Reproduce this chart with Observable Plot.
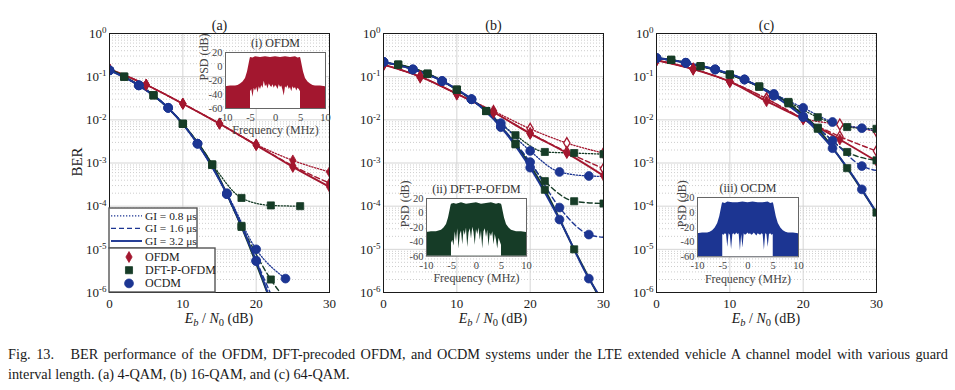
<!DOCTYPE html>
<html><head><meta charset="utf-8">
<script src="https://cdn.jsdelivr.net/npm/d3@7"></script>
<script src="https://cdn.jsdelivr.net/npm/@observablehq/plot@0.6"></script>
<style>
body{margin:0;background:#fff;}
#fig{position:relative;width:955px;height:390px;overflow:hidden;font-family:"Liberation Serif","Times New Roman",serif;color:#1a1a1a;}
#fig svg, #fig svg text{font-family:"Liberation Serif","Times New Roman",serif !important;}
.cap{position:absolute;left:8px;width:940px;font-size:14.3px;line-height:19px;color:#1a1a1a;white-space:nowrap;}
</style></head><body>
<div id="fig"></div>
<script>
// ---------- categories / labels ----------
const panelTitles = ["(a)", "(b)", "(c)"];
const schemes = ["OFDM", "DFT-P-OFDM", "OCDM"];
const guardIntervals = ["0.8", "1.6", "3.2"];
const xTicks = [0, 10, 20, 30];
const yTickExps = [0, -1, -2, -3, -4, -5, -6];

// ---------- Eb/N0 sample points ----------
const snrOFDM = [0, 5, 10, 15, 20, 25, 30];
const snrDFT  = [0, 2, 6, 10, 14, 18, 22, 26, 30];
const snrOCDM = [0, 4, 8, 12, 16, 20, 24, 28, 30];

// ---------- (a) 4-QAM ----------
const a_OFDM_GI08 = [0.15, 0.065, 0.0236, 0.0083, 0.0027, 0.00115, 0.00062];
const a_OFDM_GI16 = [0.15, 0.065, 0.0236, 0.0081, 0.0026, 0.00086, 0.00034];
const a_OFDM_GI32 = [0.15, 0.065, 0.0236, 0.0081, 0.0026, 0.00081, 0.00028];
const a_DFT_GI08  = [0.15, 0.10, 0.037, 0.0081, 0.00093, 1.55e-4, 1.04e-4, 1.0e-4, null];
const a_DFT_GI16  = [0.15, 0.10, 0.037, 0.0081, 0.00091, 3.5e-5, 2.0e-6, 3e-7, null];
const a_DFT_GI32  = [0.15, 0.10, 0.037, 0.0081, 0.00091, 3.3e-5, 6e-7, null, null];
const a_OCDM_GI08 = [0.14, 0.063, 0.019, 0.0028, 2.0e-4, 1.0e-5, 2.1e-6, null, null];
const a_OCDM_GI16 = [0.14, 0.063, 0.019, 0.0028, 1.9e-4, 5.5e-6, 1.5e-7, null, null];
const a_OCDM_GI32 = [0.14, 0.063, 0.019, 0.0028, 1.9e-4, 5.3e-6, 6e-8, null, null];

// ---------- (b) 16-QAM ----------
const b_OFDM_GI08 = [0.19, 0.10, 0.040, 0.016, 0.0062, 0.0029, 0.0017];
const b_OFDM_GI16 = [0.19, 0.10, 0.040, 0.015, 0.0049, 0.0018, 0.00074];
const b_OFDM_GI32 = [0.19, 0.10, 0.040, 0.015, 0.0048, 0.0017, 0.00051];
const b_DFT_GI08  = [0.21, 0.19, 0.117, 0.050, 0.016, 0.0044, 0.0018, 0.0017, 0.0016];
const b_DFT_GI16  = [0.21, 0.19, 0.117, 0.050, 0.016, 0.0028, 3.8e-4, 1.3e-4, 1.15e-4];
const b_DFT_GI32  = [0.21, 0.19, 0.117, 0.050, 0.016, 0.0027, 2.4e-4, 1.0e-5, 5e-7];
const b_OCDM_GI08 = [0.22, 0.147, 0.079, 0.030, 0.0084, 0.0019, 6.2e-4, 5.0e-4, 4.9e-4];
const b_OCDM_GI16 = [0.22, 0.147, 0.079, 0.030, 0.0070, 1.05e-3, 9.3e-5, 2.2e-5, 1.9e-5];
const b_OCDM_GI32 = [0.22, 0.147, 0.079, 0.030, 0.0068, 7.8e-4, 4.9e-5, 2.1e-6, 6e-7];

// ---------- (c) 64-QAM ----------
const c_OFDM_GI08 = [0.24, 0.15, 0.077, 0.031, 0.0110, 0.0078, 0.0054];
const c_OFDM_GI16 = [0.24, 0.15, 0.077, 0.031, 0.0106, 0.0041, 0.0019];
const c_OFDM_GI32 = [0.24, 0.15, 0.077, 0.027, 0.0104, 0.0035, 0.0011];
const c_DFT_GI08  = [0.27, 0.245, 0.175, 0.112, 0.059, 0.026, 0.0115, 0.0068, 0.0062];
const c_DFT_GI16  = [0.27, 0.245, 0.175, 0.112, 0.059, 0.025, 0.0066, 0.0018, 0.00115];
const c_DFT_GI32  = [0.27, 0.245, 0.175, 0.112, 0.059, 0.024, 0.0062, 7.6e-4, 7.1e-5];
const c_OCDM_GI08 = [0.27, 0.21, 0.147, 0.086, 0.040, 0.019, 0.0089, 0.0064, 0.0056];
const c_OCDM_GI16 = [0.27, 0.21, 0.147, 0.086, 0.038, 0.012, 0.0033, 8.5e-4, 6.7e-4];
const c_OCDM_GI32 = [0.27, 0.21, 0.147, 0.086, 0.036, 0.0115, 0.0022, 2.45e-4, 7e-5];

// ---------- PSD insets ----------
const insetTitles = ["(i) OFDM", "(ii) DFT-P-OFDM", "(iii) OCDM"];
const psdTicksX = [-10, -5, 0, 5, 10];
const psdTicksY = [-60, -40, -20, 0, 20];
const psdEnvFreq = [-10,-9,-8,-7.5,-7,-6.5,-6,-5.6,-5.3,-5.1,-5,-4.5,-4,-3,-2,-1,0,1,2,3,4,4.5,5,5.1,5.3,5.6,6,6.5,7,7.5,8,9,10];
const psdEnvOFDM = [-29,-28,-28,-27,-25,-22,-17,-8,3,10,13,12,14,13,14,13,14,13,14,13,14,12,13,10,3,-8,-17,-22,-25,-27,-28,-28,-29];
const psdEnvDFT  = [-27,-26,-26,-25,-24,-21,-16,-7,3,10,12,13,12,14,12,13,14,12,13,14,12,13,12,10,3,-7,-16,-21,-24,-25,-26,-26,-27];
const psdEnvOCDM = [-29,-28,-28,-27,-25,-21,-15,-6,4,11,13,12,14,13,13,14,13,14,13,13,14,12,13,11,4,-6,-15,-21,-25,-27,-28,-28,-29];
const psdInFreq = [-5,-4.75,-4.5,-4.25,-4,-3.75,-3.5,-3.25,-3,-2.75,-2.5,-2.25,-2,-1.75,-1.5,-1.25,-1,-0.75,-0.5,-0.25,0,0.25,0.5,0.75,1,1.25,1.5,1.75,2,2.25,2.5,2.75,3,3.25,3.5,3.75,4,4.25,4.5,4.75,5];
const psdInOFDM = [-36,-33,-44,-31,-35,-30,-38,-29,-33,-27,-31,-21,-29,-26,-32,-25,-28,-30,-26,-31,-27,-29,-33,-26,-30,-28,-34,-42,-29,-31,-27,-33,-30,-36,-29,-32,-30,-35,-31,-33,-36];
const psdInDFT  = [-42,-38,-46,-26,-40,-22,-50,-30,-25,-44,-24,-31,-21,-48,-28,-22,-36,-20,-27,-45,-23,-30,-21,-38,-25,-50,-26,-22,-34,-24,-47,-28,-33,-26,-44,-30,-38,-50,-35,-40,-45];
const psdInOCDM = [-30,-31,-29,-30,-47,-29,-31,-50,-30,-29,-31,-28,-30,-29,-52,-30,-48,-29,-31,-30,-28,-30,-29,-31,-30,-28,-30,-32,-29,-30,-31,-29,-30,-51,-29,-30,-47,-30,-29,-31,-30];

// ---------- styles ----------
const colors = {"OFDM": "#a3172f", "DFT-P-OFDM": "#163c27", "OCDM": "#1c3592"};
const psdColors = ["#a3172f", "#163c27", "#1c3592"];
const giStyle = [
  {dash: "1.3,1.7", width: 1.3},
  {dash: "5,3", width: 1.4},
  {dash: null, width: 1.9}
];
const FONT = "Liberation Serif, Times New Roman, serif";

const panelData = [
  [[a_OFDM_GI08, a_OFDM_GI16, a_OFDM_GI32], [a_DFT_GI08, a_DFT_GI16, a_DFT_GI32], [a_OCDM_GI08, a_OCDM_GI16, a_OCDM_GI32]],
  [[b_OFDM_GI08, b_OFDM_GI16, b_OFDM_GI32], [b_DFT_GI08, b_DFT_GI16, b_DFT_GI32], [b_OCDM_GI08, b_OCDM_GI16, b_OCDM_GI32]],
  [[c_OFDM_GI08, c_OFDM_GI16, c_OFDM_GI32], [c_DFT_GI08, c_DFT_GI16, c_DFT_GI32], [c_OCDM_GI08, c_OCDM_GI16, c_OCDM_GI32]]
];
const snrBy = [snrOFDM, snrDFT, snrOCDM];
const markerKeep = [(i) => true, (i) => i >= 1, (i) => i <= 7];
const symbols = ["diamond", "square", "circle"];
const symR = [3.3, 4.0, 4.4];

const yTicks = yTickExps.map(e => Math.pow(10, e));
const yMinor = [];
yTickExps.slice(1).forEach(e => { for (let m = 2; m <= 9; m++) yMinor.push(m * Math.pow(10, e)); });

const fig = document.getElementById("fig");
function place(node, left, top, w, h) {
  node.setAttribute("font-family", FONT);
  node.style.fontFamily = FONT;
  node.style.background = "transparent";
  node.style.maxWidth = "none";
  node.style.overflow = "visible";
  const wrap = document.createElement("div");
  wrap.style.cssText = `position:absolute;left:${left}px;top:${top}px;width:${w}px;height:${h}px;`;
  wrap.appendChild(node);
  fig.appendChild(wrap);
}

const ML = 50, MR = 10, MT = 33, MB = 48, FW = 220, FH = 259;
const panelLeft = [59, 333, 606];

function supTicks(svg) {
  d3.select(svg).selectAll("text").each(function () {
    const m = /^10\^(-?\d+)$/.exec(this.textContent);
    if (!m) return;
    const s = d3.select(this);
    s.text(null);
    s.append("tspan").text("10");
    s.append("tspan").attr("dy", "-0.5em").attr("font-size", "9px").text(m[1]);
  });
}

for (let p = 0; p < 3; p++) {
  const marks = [
    Plot.ruleY(yMinor, {stroke: "#b8b8b8", strokeWidth: 0.7, strokeDasharray: "1,2"}),
    Plot.ruleY(yTicks, {stroke: "#d0d0d0", strokeWidth: 0.9}),
    Plot.ruleX(xTicks, {stroke: "#d0d0d0", strokeWidth: 0.9})
  ];
  const dots = [];
  for (let s = 0; s < 3; s++) {
    for (let g = 0; g < 3; g++) {
      const ber = panelData[p][s][g];
      const rows = snrBy[s].map((x, i) => ({x, y: ber[i], i})).filter(d => d.y != null);
      const st = giStyle[g];
      marks.push(Plot.line(rows, {x: "x", y: "y", stroke: colors[schemes[s]], strokeWidth: st.width,
        strokeDasharray: st.dash, curve: "monotone-x", clip: true}));
      const hollow = s === 0 && p > 0 && g < 2;
      dots.push(Plot.dot(rows.filter(d => markerKeep[s](d.i)), {x: "x", y: "y", symbol: symbols[s], r: symR[s],
        fill: hollow ? "white" : colors[schemes[s]], stroke: colors[schemes[s]], strokeWidth: hollow ? 1.3 : 0.8, clip: true}));
    }
  }
  marks.push(...dots);
  marks.push(Plot.frame({stroke: "#1a1a1a", strokeWidth: 1}));
  marks.push(Plot.text([panelTitles[p]], {frameAnchor: "top", dy: -8, lineAnchor: "middle", fontSize: 14, fill: "#1a1a1a"}));
  const svg = Plot.plot({
    width: ML + FW + MR, height: MT + FH + MB,
    marginLeft: ML, marginRight: MR, marginTop: MT, marginBottom: MB,
    style: {background: "transparent", fontFamily: FONT, fontSize: "13px", color: "#1a1a1a", overflow: "visible"},
    x: {domain: [0, 30], ticks: xTicks, tickSize: 0, tickPadding: 6, label: null},
    y: {type: "log", domain: [1e-6, 1], ticks: yTicks, tickSize: 0, tickPadding: 3, label: null,
        tickFormat: d => "10^" + Math.round(Math.log10(d))},
    marks
  });
  supTicks(svg);
  const S = d3.select(svg);
  const xl = S.append("text").attr("x", ML + FW / 2).attr("y", 318).attr("text-anchor", "middle")
    .attr("dominant-baseline", "central").attr("font-size", 14).attr("fill", "#1a1a1a");
  xl.append("tspan").attr("font-style", "italic").text("E");
  xl.append("tspan").attr("font-style", "italic").attr("font-size", 10.5).attr("dy", 3.5).text("b");
  xl.append("tspan").attr("dy", -3.5).text(" / ");
  xl.append("tspan").attr("font-style", "italic").text("N");
  xl.append("tspan").attr("font-size", 10.5).attr("dy", 3.5).text("0");
  xl.append("tspan").attr("dy", -3.5).text(" (dB)");
  if (p === 0) {
    S.append("text").attr("transform", "translate(18,162) rotate(-90)").attr("text-anchor", "middle")
      .attr("dominant-baseline", "central").attr("font-size", 15).attr("fill", "#1a1a1a").text("BER");
    // legend
    const L = S.append("g").attr("font-size", 11.4).attr("fill", "#1a1a1a").attr("text-anchor", "start");
    L.append("rect").attr("x", 50).attr("y", 208).attr("width", 88).attr("height", 40)
      .attr("fill", "white").attr("stroke", "#555").attr("stroke-width", 1.4);
    L.append("rect").attr("x", 50).attr("y", 248).attr("width", 106).attr("height", 44)
      .attr("fill", "white").attr("stroke", "#555").attr("stroke-width", 1.4);
    const ly = [215.8, 228.4, 241];
    guardIntervals.forEach((gi, g) => {
      L.append("line").attr("x1", 52).attr("x2", 83).attr("y1", ly[g]).attr("y2", ly[g])
        .attr("stroke", colors.OCDM).attr("stroke-width", giStyle[g].width)
        .attr("stroke-dasharray", giStyle[g].dash);
      L.append("text").attr("x", 86).attr("y", ly[g]).attr("dominant-baseline", "central")
        .attr("text-anchor", "start").text("GI = " + gi + " μs");
    });
    const my = [257, 270.2, 283.4];
    const d3sym = [d3.symbolDiamond, d3.symbolSquare, d3.symbolCircle];
    schemes.forEach((sc, s) => {
      L.append("path").attr("d", d3.symbol(d3sym[s], Math.PI * symR[s] * symR[s])())
        .attr("transform", `translate(70,${my[s]})`).attr("fill", colors[sc]).attr("stroke", colors[sc]).attr("stroke-width", 0.8);
      L.append("text").attr("x", 86).attr("y", my[s]).attr("dominant-baseline", "central").attr("text-anchor", "start")
        .attr("font-size", 12).text(sc);
    });
  }
  place(svg, panelLeft[p], 0, ML + FW + MR, MT + FH + MB);
}

// ---------- insets ----------
const insetFrames = [
  {x: 224.5, y: 52, w: 100, h: 56, lab: 21},
  {x: 425.7, y: 198.3, w: 100, h: 57.7, lab: 21},
  {x: 697.3, y: 196.7, w: 101, h: 59.3, lab: 15}
];
const envs = [psdEnvOFDM, psdEnvDFT, psdEnvOCDM];
const inners = [psdInOFDM, psdInDFT, psdInOCDM];
const IL = 30, IR = 8, IT = 20, IB = 34;
for (let k = 0; k < 3; k++) {
  const f = insetFrames[k];
  const envRows = psdEnvFreq.map((fr, i) => ({f: fr, p: envs[k][i]}));
  const inRows = psdInFreq.map((fr, i) => ({f: fr, p: inners[k][i]}));
  const svg = Plot.plot({
    width: IL + f.w + IR, height: IT + f.h + IB,
    marginLeft: IL, marginRight: IR, marginTop: IT, marginBottom: IB,
    style: {background: "transparent", fontFamily: FONT, fontSize: "10.5px", color: "#444", overflow: "visible"},
    x: {domain: [-10, 10], ticks: psdTicksX, tickFormat: d => String(d), tickSize: 0, tickPadding: 5, label: null},
    y: {domain: [-60, 20], ticks: psdTicksY, tickFormat: d => String(d), tickSize: 0, tickPadding: 3, label: null},
    marks: [
      Plot.frame({fill: "white", stroke: "none"}),
      Plot.areaY(envRows, {x: "f", y1: d => -60, y2: "p", fill: psdColors[k], curve: "linear"}),
      Plot.areaY(inRows, {x: "f", y1: d => -60, y2: "p", fill: "white", curve: "linear"}),
      Plot.frame({stroke: "#666", strokeWidth: 1}),
      Plot.text([insetTitles[k]], {frameAnchor: "top", dy: -9, lineAnchor: "middle", fontSize: 12, fill: "#333"}),
      Plot.text(["Frequency (MHz)"], {frameAnchor: "bottom", dy: 22, lineAnchor: "middle", fontSize: 12, fill: "#444"}),
      Plot.text(["PSD (dB)"], {frameAnchor: "left", dx: -f.lab, rotate: -90, lineAnchor: "middle", fontSize: 12, fill: "#444"})
    ]
  });
  place(svg, f.x - IL, f.y - IT, IL + f.w + IR, IT + f.h + IB);
}

// ---------- caption ----------
const c1 = document.createElement("div");
c1.className = "cap";
c1.style.top = "345px";
c1.style.textAlign = "justify";
c1.style.textAlignLast = "justify";
c1.innerHTML = "Fig. 13.&nbsp;&nbsp;&nbsp;BER performance of the OFDM, DFT-precoded OFDM, and OCDM systems under the LTE extended vehicle A channel model with various guard";
fig.appendChild(c1);
const c2 = document.createElement("div");
c2.className = "cap";
c2.style.top = "365px";
c2.textContent = "interval length. (a) 4-QAM, (b) 16-QAM, and (c) 64-QAM.";
fig.appendChild(c2);
</script>
</body></html>
